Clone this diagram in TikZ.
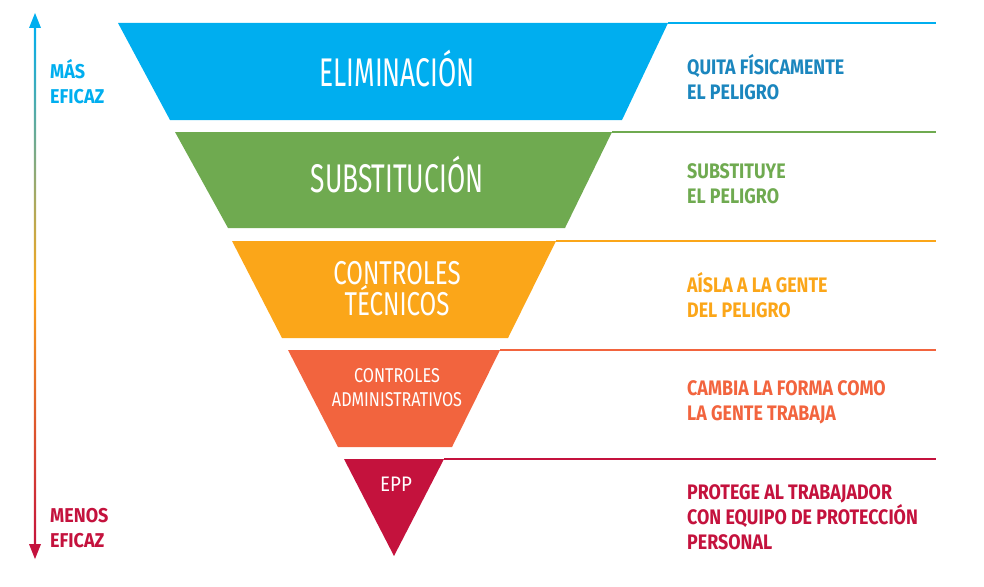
\documentclass[tikz,border=0pt]{standalone}
\usepackage{fontspec}
\usepackage{graphicx}
\setmainfont{Fira Sans}
\definecolor{cblue}{HTML}{00AEEF}
\definecolor{cgreen}{HTML}{6FAA50}
\definecolor{corange}{HTML}{FBA619}
\definecolor{cred}{HTML}{F2643E}
\definecolor{ccrim}{HTML}{C4123D}
\definecolor{tblue}{HTML}{1B86BE}
\newcommand{\cnd}[2]{\scalebox{#1}[1]{#2}}
\tikzset{
 title/.style={text=white,align=center,inner sep=0pt},
 desc/.style={anchor=north west,align=left,inner sep=0pt,font=\bfseries\fontsize{21pt}{25pt}\selectfont},
 side/.style={anchor=north west,align=left,inner sep=0pt,font=\bfseries\fontsize{20pt}{25pt}\selectfont},
 sep/.style={line width=1.2pt}
}
\begin{document}
\begin{tikzpicture}[x=1pt,y=-1pt]
\useasboundingbox (0,0) rectangle (984,586);
\fill[cblue] (118,23) -- (668,23) -- (622,120) -- (170,120) -- cycle;
\fill[cgreen] (175,132) -- (612,132) -- (565,228) -- (228,228) -- cycle;
\fill[corange] (232,241) -- (556,241) -- (508,338) -- (282,338) -- cycle;
\fill[cred] (288,350) -- (500,350) -- (452,447) -- (338,447) -- cycle;
\fill[ccrim] (344,459) -- (444,459) -- (394,556) -- cycle;
\coordinate (l1) at (668,23); \coordinate (r1) at (936,23);
\coordinate (l2) at (612,132); \coordinate (r2) at (936,132);
\coordinate (l3) at (556,241); \coordinate (r3) at (936,241);
\coordinate (l4) at (500,350); \coordinate (r4) at (936,350);
\coordinate (l5) at (444,459); \coordinate (r5) at (936,459);
\draw[sep,cblue] (l1) -- (r1);
\draw[sep,cgreen] (l2) -- (r2);
\draw[sep,corange] (l3) -- (r3);
\draw[sep,cred] (l4) -- (r4);
\draw[sep,ccrim] (l5) -- (r5);
\node[title,font=\fontsize{40pt}{40pt}\selectfont] (t1) at (397,69) {\cnd{0.66}{ELIMINACIÓN}};
\node[title,font=\fontsize{40pt}{40pt}\selectfont] (t2) at (397,175) {\cnd{0.66}{SUBSTITUCIÓN}};
\node[title,font=\fontsize{33pt}{31pt}\selectfont] (t3) at (397,289) {\cnd{0.73}{CONTROLES}\\\cnd{0.73}{TÉCNICOS}};
\node[title,font=\fontsize{20pt}{24pt}\selectfont] (t4) at (397,388) {\cnd{0.81}{CONTROLES}\\\cnd{0.81}{ADMINISTRATIVOS}};
\node[title,font=\fontsize{21pt}{21pt}\selectfont] (t5) at (396,484) {\cnd{0.89}{EPP}};
\node[desc,text=tblue] (d1) at (687,54) {\cnd{0.85}{QUITA FÍSICAMENTE}\\\cnd{0.85}{EL PELIGRO}};
\node[desc,text=cgreen] (d2) at (687,163) {\cnd{0.85}{SUBSTITUYE}\\\cnd{0.85}{EL PELIGRO}};
\node[desc,text=corange] (d3) at (687,272) {\cnd{0.85}{AÍSLA A LA GENTE}\\\cnd{0.85}{DEL PELIGRO}};
\node[desc,text=cred] (d4) at (687,380) {\cnd{0.85}{CAMBIA LA FORMA COMO}\\\cnd{0.85}{LA GENTE TRABAJA}};
\node[desc,text=ccrim] (d5) at (687,484) {\cnd{0.85}{PROTEGE AL TRABAJADOR}\\\cnd{0.85}{CON EQUIPO DE PROTECCIÓN}\\\cnd{0.85}{PERSONAL}};
\node[side,text=cblue] (s1) at (50,59) {\cnd{0.9}{MÁS}\\\cnd{0.9}{EFICAZ}};
\node[side,text=ccrim] (s2) at (50,508) {\cnd{0.9}{MENOS}\\\cnd{0.9}{EFICAZ}};
\shade[top color=cblue,bottom color=ccrim,middle color=corange] (33.8,26) rectangle (36.2,546);
\fill[cblue] (29,28) -- (35,13) -- (41,28) -- cycle;
\fill[ccrim] (29,544) -- (35,559) -- (41,544) -- cycle;
\end{tikzpicture}
\end{document}
